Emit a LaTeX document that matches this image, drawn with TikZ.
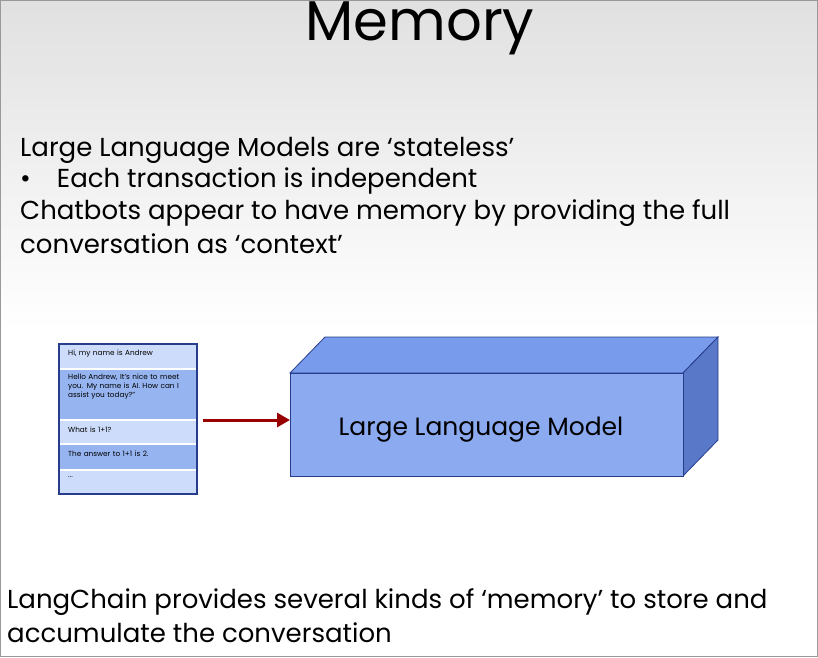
\documentclass[tikz,border=0pt]{standalone}
\usepackage{fontspec}
\setmainfont{Poppins}
\usetikzlibrary{arrows.meta}
\definecolor{front}{RGB}{140,170,240}
\definecolor{topc}{RGB}{120,155,235}
\definecolor{side}{RGB}{90,120,200}
\definecolor{edge}{RGB}{40,60,140}
\definecolor{rowl}{RGB}{205,220,250}
\definecolor{rowd}{RGB}{150,180,240}
\begin{document}
\begin{tikzpicture}[x=1pt,y=-1pt,
  txt/.style={anchor=west,inner sep=0,font=\fontsize{26}{30}\selectfont},
  row/.style={draw=none,anchor=north west,inner sep=0,text width=125,align=left,font=\fontsize{7.3}{9}\selectfont},
  face/.style={draw=edge,line width=0.8pt}]
\useasboundingbox (0,0) rectangle (818,657);
\shade[top color=black!12,bottom color=white] (0,0) rectangle (818,330);
\draw[black!40] (0.5,0.5) rectangle (817.5,656.5);
\node (title) at (420,28) {\fontsize{56}{60}\selectfont Memory};
\node[txt] (l1) at (20,150) {Large Language Models are ‘stateless’};
\node[txt] (l2) at (20,181) {•\hspace{26pt}Each transaction is independent};
\node[txt] (l3) at (20,213) {Chatbots appear to have memory by providing the full};
\node[txt] (l4) at (20,244) {conversation as ‘context’};
\node[txt] (b1) at (7,602) {LangChain provides several kinds of ‘memory’ to store and};
\node[txt] (b2) at (7,633) {accumulate the conversation};
% chat
\fill[rowl] (59,344) rectangle (197,494);
\fill[rowd] (59,369) rectangle (197,420);
\fill[rowd] (59,444) rectangle (197,470);
\draw[white,line width=1.2pt] (59,369)--(197,369) (59,420)--(197,420) (59,444)--(197,444) (59,470)--(197,470);
\node[row] (r1) at (68,350) {Hi, my name is Andrew};
\node[row] (r2) at (68,374) {Hello Andrew, It's nice to meet you. My name is AI. How can I assist you today?"};
\node[row] (r3) at (68,427) {What is 1+1?};
\node[row] (r4) at (68,451) {The answer to 1+1 is 2.};
\node[row] (r5) at (68,476) {...};
\draw[edge,line width=2pt] (59,344) rectangle (197,494);
\coordinate (cb) at (203,420);
% cube
\filldraw[face,fill=topc] (290,373)--(325,337)--(718,337)--(683,373)--cycle;
\filldraw[face,fill=side] (683,373)--(718,337)--(718,440)--(683,476)--cycle;
\node[face,fill=front,minimum width=393,minimum height=103,anchor=north west,inner sep=0] (llm) at (290,373) {};
\node at (481,430) {\fontsize{25}{30}\selectfont Large Language Model};
\draw[red!60!black,line width=3pt,-{Triangle[length=13pt,width=14pt]}] (cb) -- (llm.west|-cb);
\end{tikzpicture}
\end{document}
